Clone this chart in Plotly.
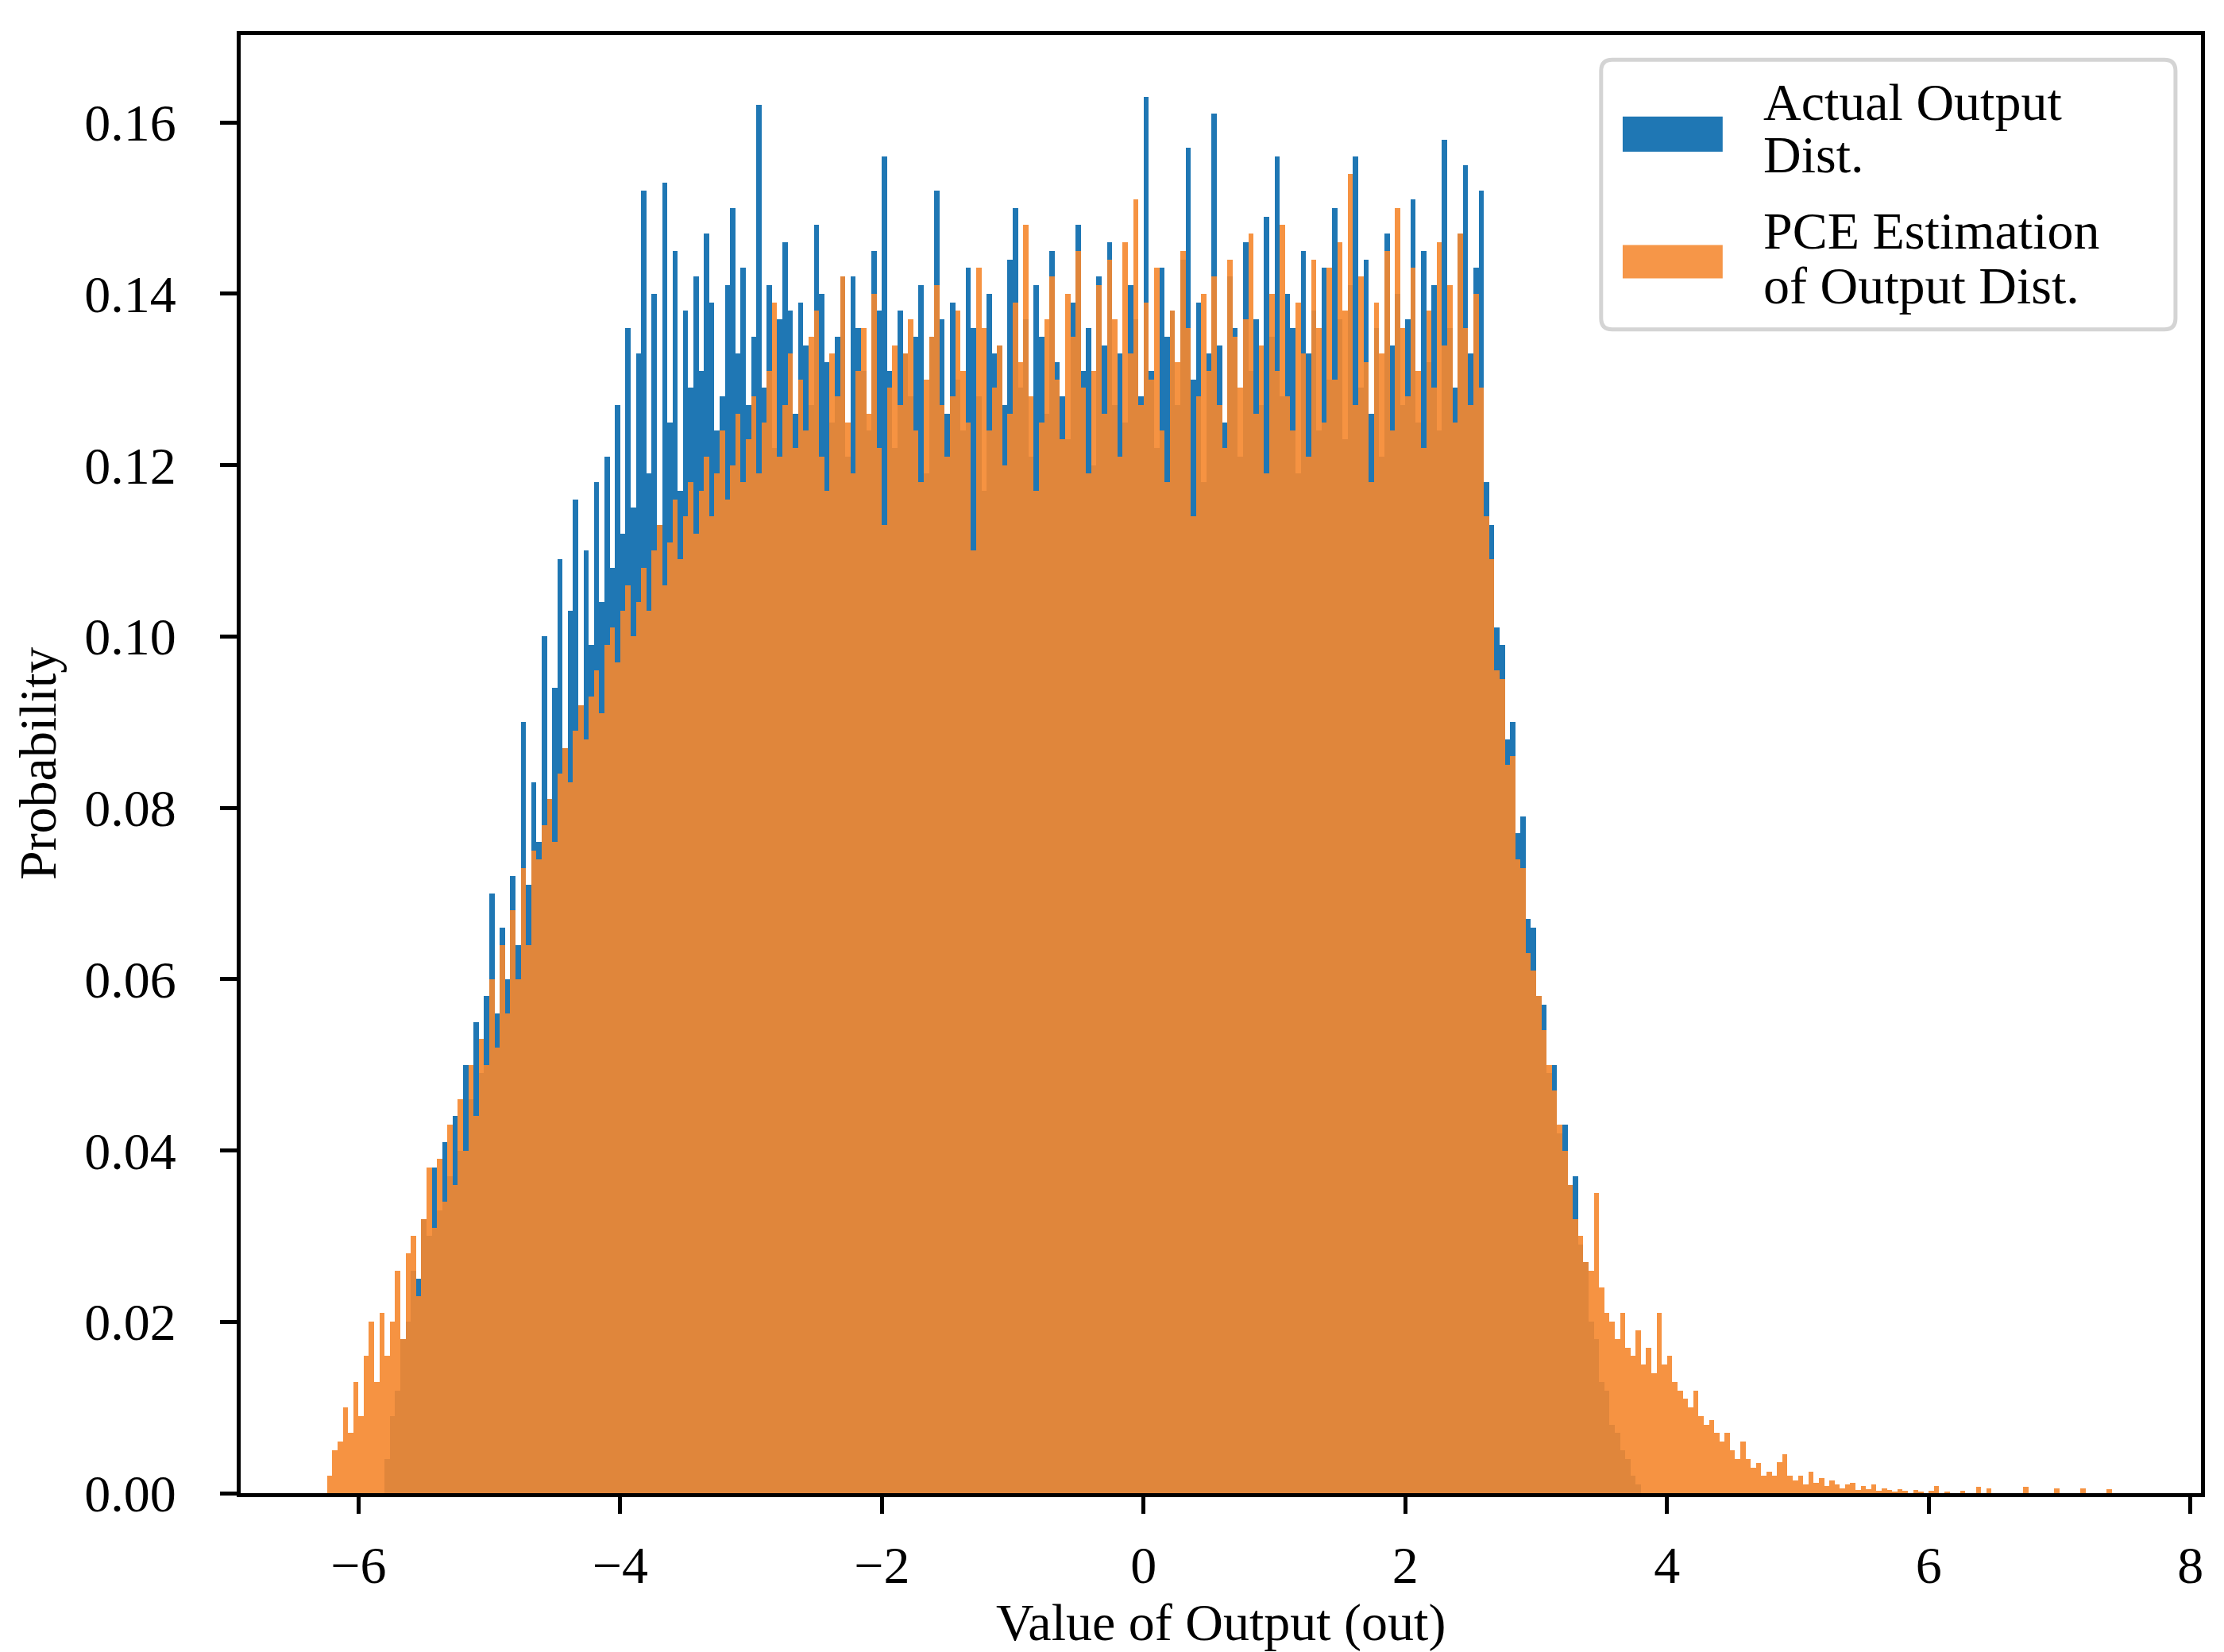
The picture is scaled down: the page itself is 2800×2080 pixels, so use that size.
import numpy as np
import plotly.graph_objects as go

# histogram bins (probability density)
bin_width = 0.04

actual_first_edge = -5.80
actual_prob = [
    0.004, 0.009, 0.012, 0.018, 0.020, 0.026, 0.025, 0.032, 0.030, 0.038,
    0.033, 0.041, 0.037, 0.044, 0.040, 0.050, 0.046, 0.055, 0.049, 0.058,
    0.070, 0.056, 0.066, 0.060, 0.072, 0.064, 0.090, 0.071, 0.083, 0.076,
    0.100, 0.081, 0.094, 0.109, 0.087, 0.103, 0.116, 0.092, 0.110, 0.099,
    0.118, 0.104, 0.121, 0.108, 0.127, 0.112, 0.136, 0.115, 0.133, 0.152,
    0.119, 0.140, 0.113, 0.153, 0.125, 0.145, 0.117, 0.138, 0.129, 0.142,
    0.131, 0.147, 0.139, 0.124, 0.128, 0.141, 0.150, 0.133, 0.143, 0.127,
    0.135, 0.162, 0.129, 0.141, 0.122, 0.137, 0.146, 0.138, 0.126, 0.139,
    0.134, 0.127, 0.148, 0.140, 0.132, 0.125, 0.135, 0.142, 0.121, 0.142,
    0.136, 0.131, 0.124, 0.145, 0.138, 0.156, 0.131, 0.122, 0.138, 0.133,
    0.128, 0.135, 0.141, 0.119, 0.135, 0.152, 0.137, 0.126, 0.139, 0.130,
    0.124, 0.143, 0.136, 0.128, 0.117, 0.140, 0.133, 0.134, 0.127, 0.144,
    0.150, 0.129, 0.137, 0.121, 0.141, 0.135, 0.126, 0.145, 0.132, 0.128,
    0.123, 0.139, 0.148, 0.131, 0.136, 0.120, 0.142, 0.134, 0.146, 0.127,
    0.133, 0.125, 0.141, 0.137, 0.128, 0.163, 0.131, 0.122, 0.143, 0.135,
    0.138, 0.127, 0.144, 0.157, 0.130, 0.139, 0.118, 0.133, 0.161, 0.134,
    0.125, 0.142, 0.136, 0.121, 0.146, 0.131, 0.137, 0.127, 0.149, 0.135,
    0.156, 0.128, 0.140, 0.136, 0.119, 0.145, 0.133, 0.138, 0.124, 0.143,
    0.130, 0.150, 0.137, 0.123, 0.141, 0.156, 0.129, 0.144, 0.126, 0.136,
    0.121, 0.147, 0.134, 0.140, 0.127, 0.137, 0.151, 0.125, 0.145, 0.132,
    0.141, 0.124, 0.158, 0.136, 0.129, 0.147, 0.155, 0.133, 0.143, 0.152,
    0.118, 0.113, 0.101, 0.099, 0.088, 0.090, 0.077, 0.079, 0.067, 0.066,
    0.058, 0.057, 0.049, 0.050, 0.042, 0.043, 0.036, 0.037, 0.029, 0.027,
    0.020, 0.018, 0.013, 0.012, 0.008, 0.007, 0.005, 0.004, 0.002, 0.001,
]

pce_first_edge = -6.24
pce_prob = [
    0.002, 0.005, 0.006, 0.010, 0.007, 0.013, 0.009, 0.016, 0.020, 0.013,
    0.021, 0.016, 0.020, 0.026, 0.018, 0.028, 0.030, 0.023, 0.032, 0.038,
    0.031, 0.039, 0.034, 0.043, 0.036, 0.046, 0.040, 0.050, 0.044, 0.053,
    0.050, 0.060, 0.052, 0.064, 0.056, 0.068, 0.060, 0.073, 0.064, 0.075,
    0.074, 0.078, 0.081, 0.076, 0.084, 0.087, 0.083, 0.089, 0.092, 0.088,
    0.093, 0.096, 0.091, 0.099, 0.101, 0.097, 0.103, 0.106, 0.100, 0.104,
    0.108, 0.103, 0.110, 0.113, 0.106, 0.111, 0.116, 0.109, 0.114, 0.118,
    0.112, 0.117, 0.121, 0.114, 0.119, 0.124, 0.116, 0.120, 0.126, 0.118,
    0.123, 0.128, 0.119, 0.125, 0.131, 0.139, 0.121, 0.127, 0.133, 0.122,
    0.130, 0.124, 0.135, 0.138, 0.121, 0.117, 0.133, 0.128, 0.142, 0.125,
    0.119, 0.131, 0.136, 0.126, 0.140, 0.122, 0.113, 0.129, 0.134, 0.127,
    0.133, 0.137, 0.124, 0.118, 0.130, 0.135, 0.141, 0.127, 0.121, 0.128,
    0.138, 0.131, 0.125, 0.110, 0.143, 0.136, 0.124, 0.129, 0.134, 0.120,
    0.126, 0.139, 0.132, 0.148, 0.128, 0.117, 0.125, 0.137, 0.142, 0.130,
    0.123, 0.140, 0.135, 0.145, 0.129, 0.119, 0.131, 0.141, 0.126, 0.144,
    0.137, 0.121, 0.146, 0.133, 0.151, 0.127, 0.139, 0.130, 0.143, 0.124,
    0.118, 0.138, 0.132, 0.145, 0.136, 0.114, 0.128, 0.140, 0.131, 0.142,
    0.127, 0.122, 0.144, 0.135, 0.129, 0.137, 0.147, 0.126, 0.134, 0.119,
    0.140, 0.131, 0.148, 0.128, 0.124, 0.139, 0.133, 0.121, 0.144, 0.136,
    0.125, 0.143, 0.130, 0.146, 0.138, 0.154, 0.127, 0.142, 0.132, 0.118,
    0.139, 0.133, 0.145, 0.124, 0.150, 0.136, 0.128, 0.143, 0.131, 0.122,
    0.138, 0.129, 0.146, 0.134, 0.141, 0.125, 0.147, 0.136, 0.127, 0.140,
    0.129, 0.114, 0.109, 0.096, 0.095, 0.085, 0.086, 0.074, 0.073, 0.063,
    0.061, 0.058, 0.054, 0.050, 0.047, 0.043, 0.040, 0.036, 0.032, 0.030,
    0.027, 0.026, 0.035, 0.024, 0.021, 0.020, 0.018, 0.021, 0.017, 0.016,
    0.019, 0.015, 0.017, 0.014, 0.021, 0.015, 0.016, 0.013, 0.012, 0.011,
    0.010, 0.012, 0.009, 0.008, 0.0085, 0.007, 0.006, 0.007, 0.005, 0.004,
    0.006, 0.004, 0.003, 0.0035, 0.002, 0.0025, 0.002, 0.0036, 0.0045, 0.002,
    0.0015, 0.002, 0.001, 0.0025, 0.0012, 0.0018, 0.0008, 0.0015, 0.001, 0.0006,
    0.001, 0.0012, 0.0004, 0.0008, 0.0005, 0.001, 0.0003, 0.0006, 0.0004, 0.0002,
    0.0005, 0.0003, 0.0, 0.0004, 0.0002, 0.0, 0.0003, 0.0008, 0.0, 0.0002,
    0.0, 0.0, 0.0003, 0.0, 0.0, 0.0007, 0.0, 0.0006, 0.0, 0.0,
    0.0, 0.0, 0.0, 0.0, 0.0007, 0.0, 0.0, 0.0, 0.0, 0.0,
    0.0006, 0.0, 0.0, 0.0, 0.0, 0.0006, 0.0, 0.0, 0.0, 0.0,
    0.0005,
]

x_ticks = [-6, -4, -2, 0, 2, 4, 6, 8]
x_ticktext = ["\u22126", "\u22124", "\u22122", "0", "2", "4", "6", "8"]
y_ticks = [0.00, 0.02, 0.04, 0.06, 0.08, 0.10, 0.12, 0.14, 0.16]

series_names = [["Actual Output", "Dist."], ["PCE Estimation", "of Output Dist."]]

BLUE = "#1f77b4"
ORANGE = "rgba(245,135,45,0.9)"
FONT = "Liberation Serif, DejaVu Serif, serif"
FS = 66

actual_x = actual_first_edge + bin_width * (np.arange(len(actual_prob)) + 0.5)
pce_x = pce_first_edge + bin_width * (np.arange(len(pce_prob)) + 0.5)

fig = go.Figure()
fig.add_trace(go.Bar(
    x=actual_x, y=actual_prob, width=bin_width,
    marker=dict(color=BLUE, line=dict(width=0)),
    name="Actual Output Dist.", showlegend=False,
))
fig.add_trace(go.Bar(
    x=pce_x, y=pce_prob, width=bin_width,
    marker=dict(color=ORANGE, line=dict(width=0)),
    name="PCE Estimation of Output Dist.", showlegend=False,
))

# ── legend drawn by hand (big swatches, rounded frame) ─────────────
px_w, px_h = 2468, 1836          # plot area in pixels
bx0, bx1, by0, by1 = 0.694, 0.987, 0.798, 0.983
rx, ry = 14 / px_w, 14 / px_h
frame = (f"M {bx0+rx},{by1} L {bx1-rx},{by1} Q {bx1},{by1} {bx1},{by1-ry} "
         f"L {bx1},{by0+ry} Q {bx1},{by0} {bx1-rx},{by0} "
         f"L {bx0+rx},{by0} Q {bx0},{by0} {bx0},{by0+ry} "
         f"L {bx0},{by1-ry} Q {bx0},{by1} {bx0+rx},{by1} Z")
shapes = [
    dict(type="path", path=frame, xref="paper", yref="paper",
         line=dict(color="#d4d4d4", width=5), fillcolor="rgba(255,255,255,0.85)",
         layer="above"),
    dict(type="rect", xref="paper", yref="paper", x0=0.705, x1=0.756,
         y0=0.920, y1=0.944, fillcolor=BLUE, line=dict(width=0), layer="above"),
    dict(type="rect", xref="paper", yref="paper", x0=0.705, x1=0.756,
         y0=0.833, y1=0.856, fillcolor="rgb(246,150,72)", line=dict(width=0),
         layer="above"),
]
line_y = [0.954, 0.918, 0.866, 0.828]
lines = series_names[0] + series_names[1]
annotations = [
    dict(text=t, x=0.776, y=y, xref="paper", yref="paper",
         xanchor="left", yanchor="middle", showarrow=False,
         font=dict(family=FONT, size=FS, color="black"))
    for t, y in zip(lines, line_y)
]
# axis titles
annotations.append(dict(text="Value of Output (out)", x=0.5, y=-0.089,
                        xref="paper", yref="paper", xanchor="center",
                        yanchor="middle", showarrow=False,
                        font=dict(family=FONT, size=FS, color="black")))
annotations.append(dict(text="Probability", x=-0.1037, y=0.5, textangle=-90,
                        xref="paper", yref="paper", xanchor="center",
                        yanchor="middle", showarrow=False,
                        font=dict(family=FONT, size=FS, color="black")))

axis_common = dict(
    showline=True, linecolor="black", linewidth=5, mirror=True,
    ticks="outside", ticklen=21, tickwidth=5, tickcolor="black",
    showgrid=False, zeroline=False,
    tickfont=dict(family=FONT, size=FS, color="black"),
)

fig.update_layout(
    width=2800, height=2080,
    margin=dict(l=295, r=37, t=36, b=208),
    paper_bgcolor="white", plot_bgcolor="white",
    barmode="overlay", bargap=0,
    font=dict(family=FONT, size=FS, color="black"),
    xaxis=dict(
        range=[-6.90, 8.08], tickvals=x_ticks, ticktext=x_ticktext,
        ticklabelstandoff=8,
        **axis_common,
    ),
    yaxis=dict(
        range=[0, 0.1702], tickvals=y_ticks, tickformat=".2f",
        ticklabelstandoff=42,
        **axis_common,
    ),
    shapes=shapes,
    annotations=annotations,
)

fig.write_html("out.html")
